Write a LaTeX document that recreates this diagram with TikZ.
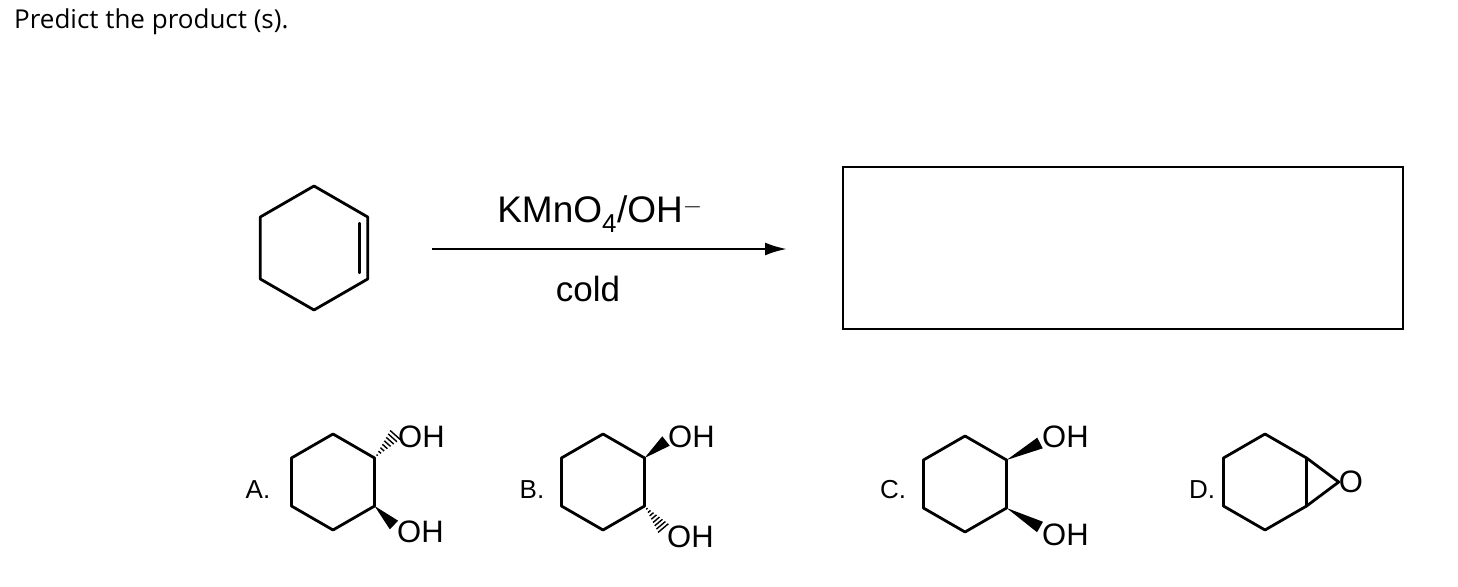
\documentclass[tikz,border=0pt]{standalone}
\usepackage{fontspec}
\usetikzlibrary{calc,arrows.meta}
\setmainfont{Liberation Sans}
\newfontfamily\titlefont{Open Sans}
\begin{document}
\begin{tikzpicture}[x=1pt,y=-1pt,
  bond/.style={line width=2.8pt,line join=round,line cap=round},
  lab/.style={font=\fontsize{31}{31}\selectfont,inner sep=0pt},
  optlab/.style={font=\fontsize{26}{26}\selectfont,inner sep=0pt}]
\useasboundingbox (0,0) rectangle (1458,586);
\node[anchor=west,inner sep=0pt,font=\titlefont\fontsize{26}{26}\selectfont] (title) at (14,22) {Predict the product (s).};
% starting material
\begin{scope}[shift={(314,248)}]
\foreach \i/\a in {1/-90,2/-30,3/30,4/90,5/150,6/210} \coordinate (s\i) at (\a:62);
\draw[bond] (s1)--(s2)--(s3)--(s4)--(s5)--(s6)--cycle;
\draw[bond] ($(s2)!0.1!(s3)+(-8,0)$) -- ($(s3)!0.1!(s2)+(-8,0)$);
\end{scope}
\coordinate (a1) at (432,249); \coordinate (a2) at (787,249);
\draw[line width=2.6pt,-{Latex[length=22pt,width=13pt]}] (a1)--(a2);
\node[inner sep=0pt,font=\fontsize{37}{37}\selectfont] (reag) at (600,214) {KMnO\textsubscript{4}/OH\textsuperscript{$-$}};
\node[inner sep=0pt,font=\fontsize{35}{35}\selectfont] (cond) at (588,289) {cold};
\node[draw,line width=2.8pt,minimum width=560pt,minimum height=162pt,inner sep=0pt] (box) at (1123,248) {};
\foreach \n/\cx/\cy in {A/333/482,B/603/482,C/965/484,D/1265/482}{
  \begin{scope}[shift={(\cx,\cy)}]
  \foreach \i/\a in {1/-90,2/-30,3/30,4/90,5/150,6/210} \coordinate (\n\i) at (\a:48);
  \draw[bond] (\n1)--(\n2)--(\n3)--(\n4)--(\n5)--(\n6)--cycle;
  \end{scope}}
% A
\node[optlab] (lA) at (258,490) {A.};
\node[lab,anchor=west] (A7) at (398,437) {OH};
\node[lab,anchor=west] (A8) at (397,532) {OH};
\coordinate (wA1) at (396,434); \coordinate (wA2) at (394,525);
\foreach \t in {0.12,0.24,...,1.0}
  \draw[line width=1.4pt] ($(A2)!\t!(wA1)!{\t*7pt}!90:(wA1)$) -- ($(A2)!\t!(wA1)!{\t*7pt}!-90:(wA1)$);
\fill (A3) -- ($(wA2)!6pt!90:(A3)$) -- ($(wA2)!6pt!-90:(A3)$) -- cycle;
% B
\node[optlab] (lB) at (532,490) {B.};
\node[lab,anchor=west] (B7) at (668,437) {OH};
\node[lab,anchor=west] (B8) at (667,537) {OH};
\coordinate (wB1) at (666,441); \coordinate (wB2) at (664,529);
\fill (B2) -- ($(wB1)!6pt!90:(B2)$) -- ($(wB1)!6pt!-90:(B2)$) -- cycle;
\foreach \t in {0.12,0.24,...,1.0}
  \draw[line width=1.4pt] ($(B3)!\t!(wB2)!{\t*7pt}!90:(wB2)$) -- ($(B3)!\t!(wB2)!{\t*7pt}!-90:(wB2)$);
% C
\node[optlab] (lC) at (893,490) {C.};
\node[lab,anchor=west] (C7) at (1042,437) {OH};
\node[lab,anchor=west] (C8) at (1042,535) {OH};
\coordinate (wC1) at (1040,443); \coordinate (wC2) at (1040,527);
\fill (C2) -- ($(wC1)!6pt!90:(C2)$) -- ($(wC1)!6pt!-90:(C2)$) -- cycle;
\fill (C3) -- ($(wC2)!6pt!90:(C3)$) -- ($(wC2)!6pt!-90:(C3)$) -- cycle;
% D
\node[optlab] (lD) at (1202,490) {D.};
\node[lab] (DO) at (1351,482) {O};
\draw[bond] (D2) -- (DO.west);
\draw[bond] (D3) -- (DO.west);
\end{tikzpicture}
\end{document}
